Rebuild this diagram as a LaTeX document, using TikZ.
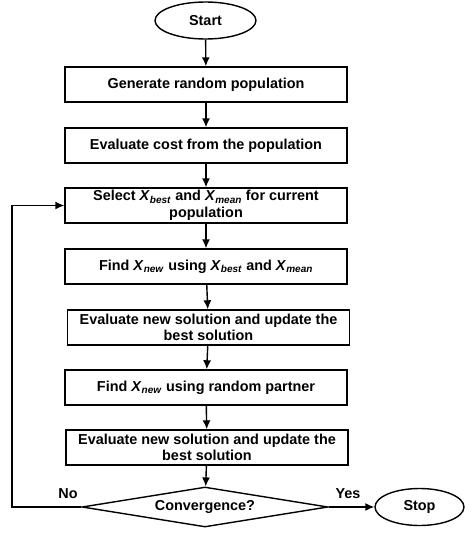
\documentclass[tikz,border=0pt]{standalone}
\usepackage{fontspec}
\setmainfont{Liberation Sans}
\usetikzlibrary{shapes.geometric,arrows.meta}
\tikzset{
  stepbox/.style={rectangle,draw,line width=1.4pt,minimum width=282pt,minimum height=35pt,inner sep=1pt,align=center,font=\bfseries\fontsize{14.4}{16.5}\selectfont},
  term/.style={ellipse,draw,line width=1.4pt,minimum width=101pt,minimum height=37pt,inner sep=0pt,font=\bfseries\fontsize{14.4}{16.5}\selectfont},
  cond/.style={diamond,draw,line width=1.4pt,aspect=6.15,minimum width=246pt,minimum height=40pt,inner sep=0pt,font=\bfseries\fontsize{14.4}{16.5}\selectfont},
  lbl/.style={font=\bfseries\fontsize{14.4}{16.5}\selectfont},
  flow/.style={line width=1.4pt,-{Latex[length=9pt,width=8pt]}}
}
\newcommand{\xsub}[1]{\textit{X}\textsubscript{\textit{#1}}}

\begin{document}
\begin{tikzpicture}[x=1pt,y=-1pt]
\useasboundingbox (0,0) rectangle (474,538);
\node[term] (start) at (205.5,20.5) {Start};
\node[stepbox] (gen) at (206,84.5) {Generate random population};
\node[stepbox] (cost) at (206,145.5) {Evaluate cost from the population};
\node[stepbox] (sel) at (206,205.5) {Select \xsub{best} and \xsub{mean} for current\\population};
\node[stepbox] (fnd) at (206,266.5) {Find \xsub{new} using \xsub{best} and \xsub{mean}};
\node[stepbox] (upd) at (208.5,327.5) {Evaluate new solution and update the\\best solution};
\node[stepbox] (part) at (206,387.5) {Find \xsub{new} using random partner};
\node[stepbox] (upd2) at (207,447.5) {Evaluate new solution and update the\\best solution};
\node[cond] (conv) at (205,507) {Convergence?};
\node[term,minimum width=89pt] (stop) at (419.5,507) {Stop};
\node[lbl] (no) at (68,494) {No};
\node[lbl] (yes) at (348,494) {Yes};
\coordinate (loop) at (12,507);
\foreach \a/\b in {start/gen,gen/cost,cost/sel,sel/fnd,fnd/upd,upd/part,part/upd2,upd2/conv}
  \draw[flow] (\a) -- (\b);
\draw[flow] (conv) -- (stop);
\draw[flow] (conv.west) -- (loop) |- (sel.west);
\end{tikzpicture}
\end{document}
